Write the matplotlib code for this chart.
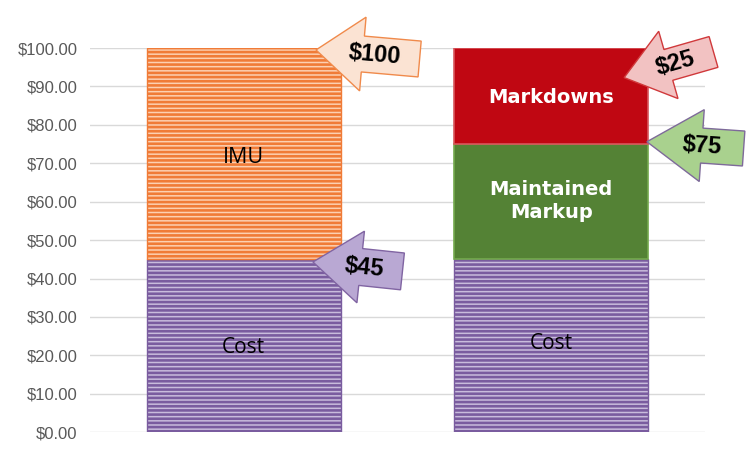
import numpy as np
import matplotlib
matplotlib.use("Agg")
import matplotlib.pyplot as plt
from matplotlib.patches import Polygon
from matplotlib.transforms import Affine2D, ScaledTranslation

# data
positions = [0.5, 1.5]
cost = [45, 45]
imu = [55, 0]
maintained = [0, 30]
markdowns = [0, 25]
yticks = np.arange(0, 101, 10)

# callouts: label, tip (x, y) in data, rotation, fill, edge, (L, head len, head half, shaft half)
callouts = [
    ("$100", (0.735, 99.5), -5, "#FBE3D3", "#F08A4B", (104, 47, 37, 18)),
    ("$45", (0.725, 44.3), -6, "#B9A8D3", "#8064A2", (90, 48, 36, 18.5)),
    ("$25", (1.737, 92.3), 16, "#F2C2C2", "#D0393B", (93, 46, 35, 16)),
    ("$75", (1.811, 75.6), -4, "#A9D18E", "#7E6A9A", (97, 55, 36, 17.5)),
]

plt.rcParams["hatch.linewidth"] = 1.9
fig = plt.figure(figsize=(7.5, 4.53), dpi=100)
ax = fig.add_axes([0.12, 0.046, 0.82, 0.848])

w = 0.63
ax.bar(positions[0], cost[0], w, color="#C9BCDC", edgecolor="#7A5C9F", hatch="----", lw=1)
ax.bar(positions[0], imu[0], w, bottom=cost[0], color="#FCD0B2", edgecolor="#F07B37", hatch="----", lw=1)
ax.bar(positions[1], cost[1], w, color="#C9BCDC", edgecolor="#7A5C9F", hatch="----", lw=1)
ax.bar(positions[1], maintained[1], w, bottom=cost[1], color="#548235", edgecolor="#74A94E", lw=1.2)
ax.bar(positions[1], markdowns[1], w, bottom=cost[1] + maintained[1], color="#C00712", edgecolor="#D8565C", lw=1.2)

ax.text(positions[0], 22.1, "Cost", ha="center", va="center", fontsize=15, family="Open Sans")
ax.text(positions[0], 71.5, "IMU", ha="center", va="center", fontsize=15.5, family="Open Sans")
ax.text(positions[1], 23.2, "Cost", ha="center", va="center", fontsize=15, family="Open Sans")
ax.text(positions[1], 60.2, "Maintained\nMarkup", ha="center", va="center",
        fontsize=14, fontweight="bold", color="white", linespacing=1.25)
ax.text(positions[1], 87, "Markdowns", ha="center", va="center",
        fontsize=14, fontweight="bold", color="white")

ax.set_xlim(0, 2)
ax.set_ylim(0, 100)
ax.set_yticks(yticks)
ax.set_yticklabels([f"${v:.2f}" for v in yticks], fontsize=12, color="#595959", family="Liberation Sans")
ax.set_xticks([])
ax.tick_params(axis="y", length=0, pad=9)
ax.yaxis.grid(True, color="#D9D9D9", lw=1)
ax.set_axisbelow(True)
for s in ax.spines.values():
    s.set_visible(False)

for label, (tx, ty), rot, fc, ec, (L, hl, hw, sw) in callouts:
    pts = np.array([[0, 0], [hl, hw], [hl, sw], [L, sw], [L, -sw], [hl, -sw], [hl, -hw]])
    tr = Affine2D().rotate_deg(rot) + ScaledTranslation(tx, ty, ax.transData)
    ax.add_patch(Polygon(pts, closed=True, fc=fc, ec=ec, lw=1, transform=tr, clip_on=False, zorder=5))
    c = Affine2D().rotate_deg(rot).transform([0.57 * L, 0])
    ctr = Affine2D().translate(*c) + ScaledTranslation(tx, ty, ax.transData)
    ax.text(0, 0, label, transform=ctr, ha="center", va="center", rotation=rot, fontsize=17,
            fontweight="bold", family="Liberation Sans", zorder=6, rotation_mode="anchor")

fig.savefig("out.png", dpi=100)
